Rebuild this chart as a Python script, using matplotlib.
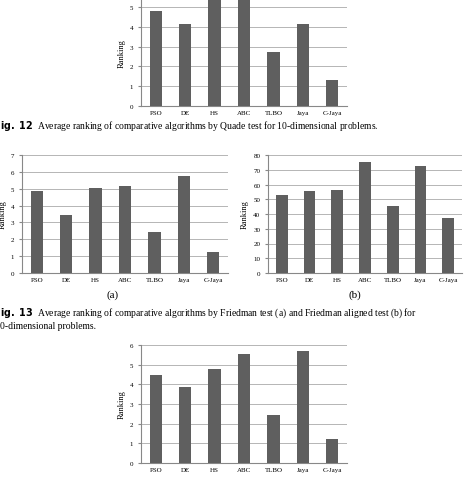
import matplotlib
matplotlib.use('Agg')
import matplotlib.pyplot as plt

algos = ['PSO', 'DE', 'HS', 'ABC', 'TLBO', 'Jaya', 'C-Jaya']
quade_10 = [4.8, 4.15, 5.6, 5.6, 2.75, 4.15, 1.3]
friedman_30 = [4.85, 3.42, 5.02, 5.18, 2.42, 5.75, 1.27]
aligned_30 = [53, 55.5, 56.5, 75.5, 45.3, 72.3, 37.5]
quade_30 = [4.5, 3.85, 4.8, 5.55, 2.42, 5.7, 1.22]

W, H = 474, 481
fig = plt.figure(figsize=(W / 100, H / 100), dpi=100)
plt.rcParams['font.family'] = ['Liberation Serif', 'DejaVu Serif']


def panel(x0, x1, ytop, ybot, vals, ylim, step):
    ax = fig.add_axes([x0 / W, 1 - ybot / H, (x1 - x0) / W, (ybot - ytop) / H])
    ax.bar(range(len(algos)), vals, width=0.42, color='#5f5f5f', zorder=3)
    ax.set_xlim(-0.5, len(algos) - 0.5)
    ax.set_ylim(*ylim)
    ax.set_yticks(range(0, int(ylim[1]) + 1, step))
    ax.set_xticks(range(len(algos)))
    ax.set_xticklabels(algos, fontsize=5)
    ax.tick_params(axis='y', labelsize=5, length=2, color='#888888')
    ax.tick_params(axis='x', length=0, pad=3)
    ax.grid(True, axis='y', color='#aaaaaa', linewidth=0.6, zorder=0)
    for s in ['top', 'right']:
        ax.spines[s].set_visible(False)
    ax.spines['left'].set_color('#888888')
    ax.spines['bottom'].set_color('#888888')
    ax.set_ylabel('Ranking', fontsize=6, labelpad=3)
    return ax


panel(141, 347, 0, 107, quade_10, (0, 5.4), 1)
panel(22, 228, 156, 274, friedman_30, (0, 7), 1)
panel(268, 462, 156, 274, aligned_30, (0, 80), 10)
panel(141, 347, 346, 464, quade_30, (0, 6), 1)

cap = dict(fontsize=6.9, va='center')
fig.text(0 / W, 1 - 126 / H, r'$\mathbf{ig.\ 12}$  Average ranking of comparative algorithms by Quade test for 10-dimensional problems.', **cap)
fig.text(113 / W, 1 - 295 / H, '(a)', ha='center', fontsize=8, va='center')
fig.text(355 / W, 1 - 295 / H, '(b)', ha='center', fontsize=8, va='center')
fig.text(0 / W, 1 - 313 / H, r'$\mathbf{ig.\ 13}$  Average ranking of comparative algorithms by Friedman test (a) and Friedman aligned test (b) for', **cap)
fig.text(0 / W, 1 - 327 / H, '0-dimensional problems.', **cap)

fig.savefig('out.png', dpi=100)
